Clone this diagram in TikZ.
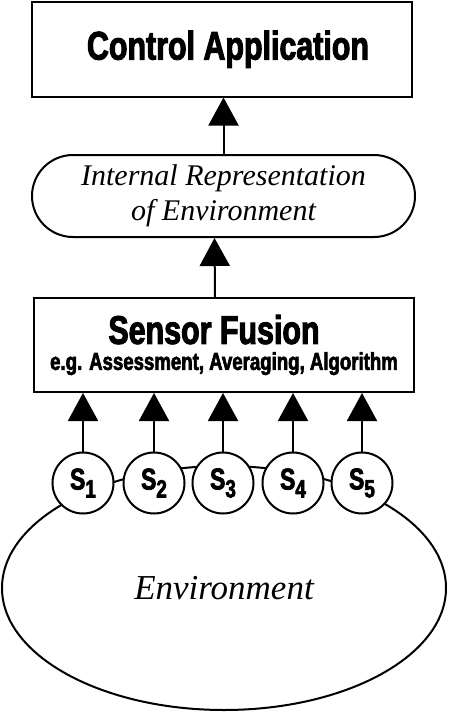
\documentclass[tikz,border=0pt]{standalone}
\usepackage{fontspec}
\setmainfont{Liberation Serif}
\newfontfamily\condfont[FakeStretch=0.76,FakeBold=2.5]{Liberation Sans}
\usepackage{tikz}
\usetikzlibrary{arrows.meta}
\usetikzlibrary{shapes.geometric}
\tikzset{hd/.style={font=\condfont\bfseries\fontsize{40}{40}\selectfont}}
\tikzset{it/.style={font=\itshape\fontsize{30}{35}\selectfont}}
\tikzset{sn/.style={draw, circle, fill=white, minimum size=61pt, inner sep=0pt, font=\condfont\bfseries\fontsize{30}{30}\selectfont}}
\newcommand{\exline}{\fontsize{24.5}{27}\selectfont}
\newcommand{\sens}[1]{S\lower8pt\hbox{\fontsize{25}{25}\selectfont #1}}

\begin{document}
\begin{tikzpicture}[x=1pt,y=-1pt,line width=2pt,>={Triangle[width=30pt,length=28pt]}]
  \useasboundingbox (0,0) rectangle (448,712);
  \node (control) at (222,49.25) [draw, minimum width=380pt, minimum height=94.5pt, hd] {\hspace*{12pt}Control Application};
  \node (intrep) at (223.5,196) [draw, rounded corners=41pt, minimum width=383pt, minimum height=82pt, it, align=center] {Internal Representation\\of Environment}
    edge [->] (intrep.north |- control.south);
  \node (fusion) at (224,345) [draw, minimum width=380pt, minimum height=94pt, hd, align=center] {Sensor Fusion\hspace*{20pt}\\[-14pt]{\exline e.g. Assessment, Averaging, Algorithm}};
  \draw [->] ([xshift=-9pt]fusion.north) -- ([xshift=-9pt]intrep.south);
  % environment first, sensors on top of it
  \node (env) at (224,588) [draw, ellipse, minimum width=444pt, minimum height=244pt, font=\itshape\fontsize{35}{35}\selectfont] {Environment};
  \node (s1) at (83,483) [sn] {\sens{1}}
    edge [->] (s1 |- fusion.south);
  \node (s2) at (154,483) [sn] {\sens{2}}
    edge [->] (s2 |- fusion.south);
  \node (s3) at (223,483) [sn] {\sens{3}}
    edge [->] (s3 |- fusion.south);
  \node (s4) at (293,483) [sn] {\sens{4}}
    edge [->] (s4 |- fusion.south);
  \node (s5) at (362,483) [sn] {\sens{5}}
    edge [->] (s5 |- fusion.south);
\end{tikzpicture}
\end{document}
